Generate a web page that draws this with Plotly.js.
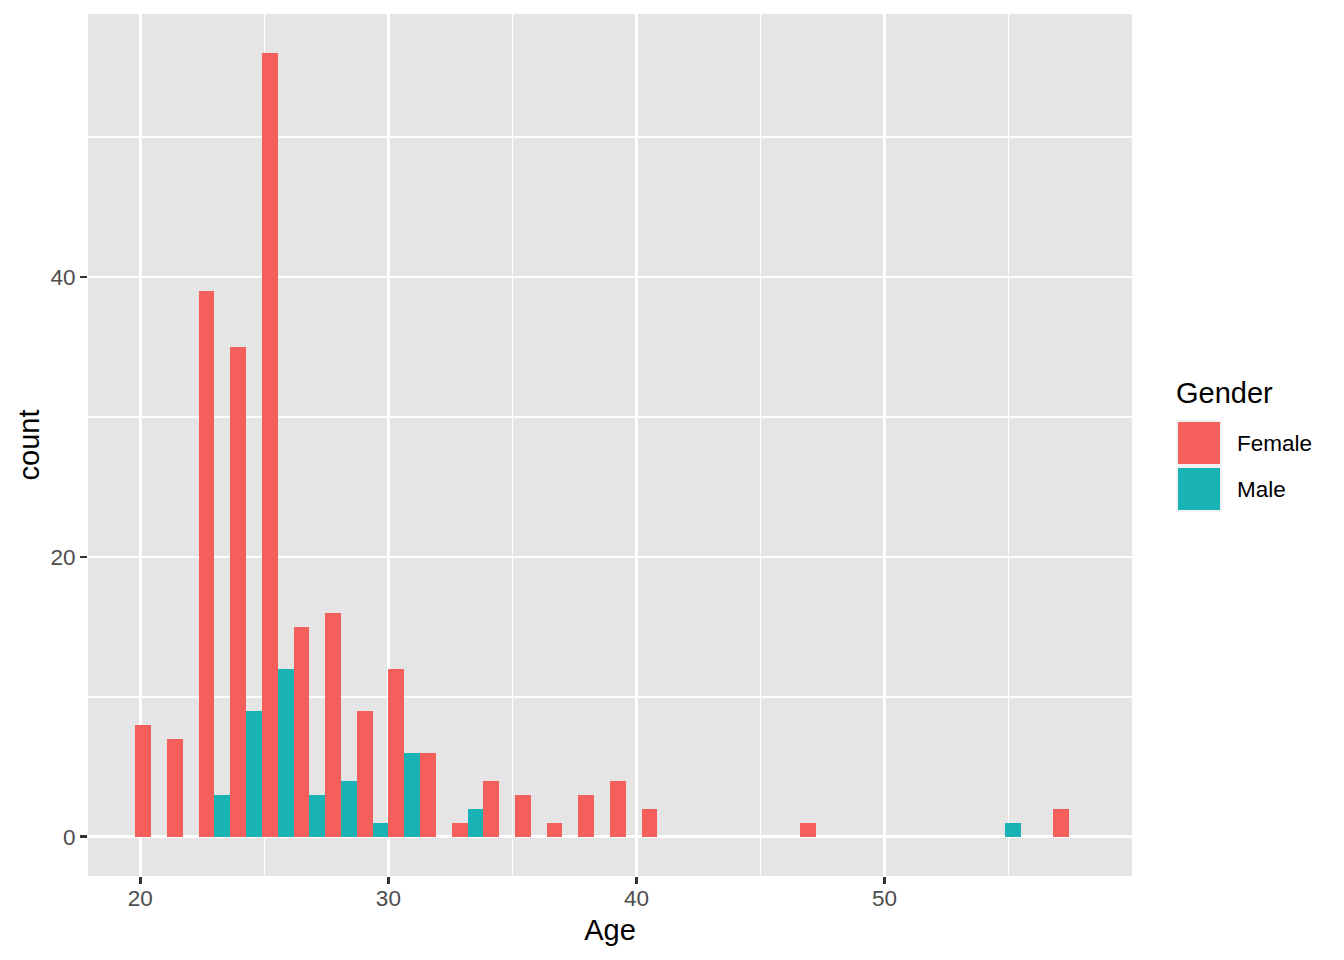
<!DOCTYPE html>
<html>
<head>
<meta charset="utf-8">
<script src="https://cdn.plot.ly/plotly-3.0.1.min.js"></script>
<style>body{margin:0;background:#fff}#chart{width:1344px;height:960px}</style>
</head>
<body>
<div id="chart"></div>
<script>
// Histogram (30 bins) of Age, dodged by Gender
const binStart = 19.80;     // left edge of first bin
const binWidth = 1.2755;    // bin width
const femaleCounts = [8,7,39,35,56,15,16,9,12,6,1,4,3,1,3,4,2,0,0,0,0,1,0,0,0,0,0,0,0,2];
const maleCounts   = [0,0,3,9,12,3,4,1,6,0,2,0,0,0,0,0,0,0,0,0,0,0,0,0,0,0,0,1,0,0];
const groups = ['Female','Male'];
const groupColors = ['#F45F5C','#19B3B6'];
const xTicks = [20,30,40,50];
const yTicks = [0,20,40];

const binCenters = femaleCounts.map((_, i) => binStart + binWidth * (i + 0.5));

const traces = [femaleCounts, maleCounts].map((counts, k) => ({
  type: 'bar',
  name: groups[k],
  x: binCenters,
  y: counts,
  marker: {color: groupColors[k], line: {width: 0}},
  hoverinfo: 'x+y+name'
}));

const fontFam = 'Liberation Sans, Arial, Helvetica, sans-serif';

// custom ggplot-style legend
const L = 88, R = 1132, T = 14, B = 876;
const px = v => (v - L) / (R - L);
const py = v => (B - v) / (B - T);
const shapes = [];
const annotations = [];
groups.forEach((g, k) => {
  const top = 420 + k * 46;
  shapes.push({type: 'rect', xref: 'paper', yref: 'paper',
    x0: px(1176), x1: px(1222), y0: py(top + 46), y1: py(top),
    fillcolor: '#F2F2F2', line: {width: 0}, layer: 'above'});
  shapes.push({type: 'rect', xref: 'paper', yref: 'paper',
    x0: px(1178), x1: px(1220), y0: py(top + 44), y1: py(top + 2),
    fillcolor: groupColors[k], line: {width: 0}, layer: 'above'});
  annotations.push({xref: 'paper', yref: 'paper', x: px(1235), y: py(top + 23),
    xanchor: 'left', yanchor: 'middle', showarrow: false, text: g,
    font: {family: fontFam, size: 22.5, color: '#000'}});
});
annotations.push({xref: 'paper', yref: 'paper', x: px(1174), y: py(393),
  xanchor: 'left', yanchor: 'middle', showarrow: false, text: 'Gender',
  font: {family: fontFam, size: 29, color: '#000'}});

const layout = {
  width: 1344, height: 960,
  margin: {l: L, r: 1344 - R, t: T, b: 960 - B, pad: 0},
  paper_bgcolor: '#FFFFFF',
  plot_bgcolor: '#E5E5E5',
  barmode: 'group', bargap: 0, bargroupgap: 0,
  showlegend: false,
  font: {family: fontFam, color: '#4D4D4D'},
  xaxis: {
    range: [17.89, 59.98], tickvals: xTicks, ticktext: xTicks.map(String),
    showgrid: true, gridcolor: '#FFFFFF', gridwidth: 2.7,
    minor: {dtick: 5, tick0: 0, showgrid: true, gridcolor: '#FFFFFF', gridwidth: 1.3, ticklen: 0},
    ticks: 'outside', ticklen: 7, tickwidth: 2.7, tickcolor: '#333333',
    tickfont: {size: 22.5, color: '#4D4D4D', family: fontFam},
    ticklabelstandoff: -5,
    zeroline: false, showline: false,
    title: {text: 'Age', font: {size: 29, color: '#000', family: fontFam}, standoff: 9}
  },
  yaxis: {
    range: [-2.8, 58.8], tickvals: yTicks, ticktext: yTicks.map(String),
    showgrid: true, gridcolor: '#FFFFFF', gridwidth: 2.7,
    minor: {dtick: 10, tick0: 0, showgrid: true, gridcolor: '#FFFFFF', gridwidth: 1.3, ticklen: 0},
    ticks: 'outside', ticklen: 7, tickwidth: 2.7, tickcolor: '#333333',
    tickfont: {size: 22.5, color: '#4D4D4D', family: fontFam},
    zeroline: false, showline: false,
    title: {text: 'count', font: {size: 29, color: '#000', family: fontFam}, standoff: 2}
  },
  shapes: shapes,
  annotations: annotations
};

Plotly.newPlot('chart', traces, layout, {displayModeBar: false, staticPlot: true});
</script>
</body>
</html>
